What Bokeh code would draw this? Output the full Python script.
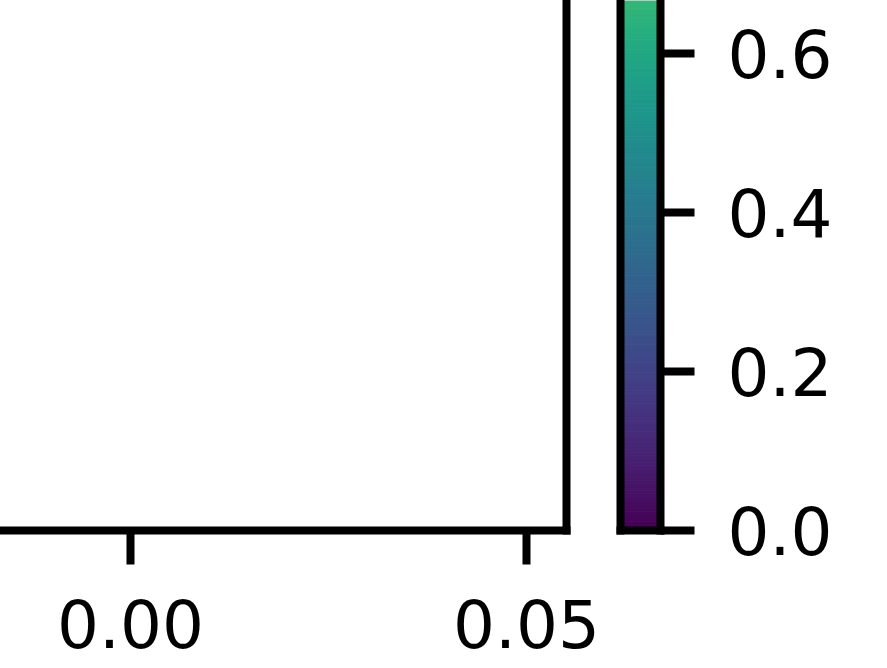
import numpy as np
from bokeh.plotting import figure
from bokeh.layouts import row
from bokeh.models import Range1d, FixedTicker, NumeralTickFormatter, LinearAxis, ColumnDataSource
from bokeh.palettes import Viridis256
from bokeh.embed import file_html
from bokeh.resources import INLINE

# ---- data ----
x_ticks = [0.00, 0.05]
x_view = [-0.016414, 0.0550505]          # visible part of the x axis
y_view = [0.0, 1.0]
cbar_low = 0.0
cbar_high = 1.0
cbar_ticks = [0.0, 0.2, 0.4, 0.6]
cbar_view_top = 0.6667                    # colorbar value at the top of the picture
palette = list(Viridis256)

FONT = "DejaVu Sans"
FS = "66px"
LW = 8


def style_axis(ax, ticks, fmt=None, standoff=0, labels=True):
    ax.ticker = FixedTicker(ticks=ticks, minor_ticks=[])
    if fmt is not None:
        ax.formatter = NumeralTickFormatter(format=fmt)
    ax.axis_line_width = LW
    ax.axis_line_color = "black"
    ax.axis_line_cap = "square"
    ax.major_tick_line_width = LW
    ax.major_tick_line_color = "black"
    ax.major_tick_in = 0
    ax.major_tick_out = 34 if ticks else 0
    ax.minor_tick_out = 0
    ax.minor_tick_in = 0
    ax.major_label_text_font = FONT
    ax.major_label_text_font_size = FS if labels else "0px"
    ax.major_label_text_color = "black"
    ax.major_label_standoff = standoff


# ---- main plot ----
p1 = figure(frame_width=566, frame_height=530,
            min_border_left=0, min_border_top=0, min_border_right=34, min_border_bottom=138,
            x_range=Range1d(*x_view), y_range=Range1d(*y_view),
            x_axis_location="below", y_axis_location=None,
            toolbar_location=None, output_backend="svg",
            outline_line_color=None, background_fill_color="white", border_fill_color="white")
p1.grid.visible = False
style_axis(p1.xaxis[0], x_ticks, "0.00", standoff=34)
right_border = LinearAxis()
style_axis(right_border, [], labels=False)
p1.add_layout(right_border, "right")

# ---- colorbar ----
edges = np.linspace(cbar_low, cbar_high, len(palette) + 1)
src = ColumnDataSource(dict(bottom=edges[:-1], top=edges[1:], color=palette))
p2 = figure(frame_width=40, frame_height=530,
            min_border_left=20, min_border_top=0, min_border_right=0, min_border_bottom=138,
            x_range=Range1d(0, 1), y_range=Range1d(cbar_low, cbar_view_top),
            x_axis_location=None, y_axis_location="right",
            toolbar_location=None, output_backend="svg",
            outline_line_color=None, background_fill_color="white", border_fill_color="white")
p2.grid.visible = False
p2.quad(left=0, right=1, bottom="bottom", top="top", fill_color="color",
        line_color="color", line_width=1, source=src)
style_axis(p2.yaxis[0], cbar_ticks, "0.0", standoff=33)
cb_left = LinearAxis()
style_axis(cb_left, [], labels=False)
p2.add_layout(cb_left, "left")
cb_bottom = LinearAxis()
style_axis(cb_bottom, [], labels=False)
p2.add_layout(cb_bottom, "below")

layout = row(p1, p2)
open("out.html", "w").write(file_html(layout, INLINE))
